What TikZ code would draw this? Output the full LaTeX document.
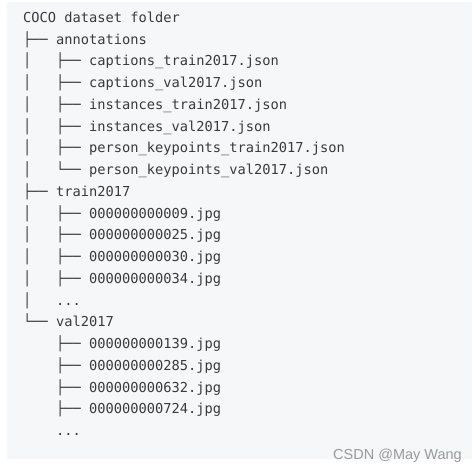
\documentclass[tikz,border=0pt]{standalone}
\usepackage{fontspec}
\setmainfont{Liberation Sans}
\newfontfamily\codefont{DejaVu Sans Mono}
\definecolor{codebg}{HTML}{F6F7F9}
\definecolor{codetext}{HTML}{383A3F}
\definecolor{wmark}{HTML}{9A9A9A}
\tikzset{
  codeline/.style={anchor=base west, inner sep=0pt, outer sep=0pt, text=codetext,
    font=\codefont\fontsize{13.7pt}{16pt}\selectfont},
  watermark/.style={anchor=base east, inner sep=0pt, text=wmark,
    font=\fontsize{14.5pt}{17pt}\selectfont}
}
\begin{document}
\begin{tikzpicture}[x=1pt,y=-1pt]
\useasboundingbox (0,0) rectangle (474,471);
\fill[white] (0,0) rectangle (474,471);
\fill[codebg] (7,2) rectangle (472,459);
\def\lx{23.2}
\def\ly#1{22.3+21.75*#1}
\node[codeline] (l0)  at (\lx,{\ly{0}})  {COCO\ dataset\ folder};
\node[codeline] (l1)  at (\lx,{\ly{1}})  {├──\ annotations};
\node[codeline] (l2)  at (\lx,{\ly{2}})  {│\ \ \ ├──\ captions\_train2017.json};
\node[codeline] (l3)  at (\lx,{\ly{3}})  {│\ \ \ ├──\ captions\_val2017.json};
\node[codeline] (l4)  at (\lx,{\ly{4}})  {│\ \ \ ├──\ instances\_train2017.json};
\node[codeline] (l5)  at (\lx,{\ly{5}})  {│\ \ \ ├──\ instances\_val2017.json};
\node[codeline] (l6)  at (\lx,{\ly{6}})  {│\ \ \ ├──\ person\_keypoints\_train2017.json};
\node[codeline] (l7)  at (\lx,{\ly{7}})  {│\ \ \ └──\ person\_keypoints\_val2017.json};
\node[codeline] (l8)  at (\lx,{\ly{8}})  {├──\ train2017};
\node[codeline] (l9)  at (\lx,{\ly{9}})  {│\ \ \ ├──\ 000000000009.jpg};
\node[codeline] (l10) at (\lx,{\ly{10}}) {│\ \ \ ├──\ 000000000025.jpg};
\node[codeline] (l11) at (\lx,{\ly{11}}) {│\ \ \ ├──\ 000000000030.jpg};
\node[codeline] (l12) at (\lx,{\ly{12}}) {│\ \ \ ├──\ 000000000034.jpg};
\node[codeline] (l13) at (\lx,{\ly{13}}) {│\ \ \ ...};
\node[codeline] (l14) at (\lx,{\ly{14}}) {└──\ val2017};
\node[codeline] (l15) at (\lx,{\ly{15}}) {\ \ \ \ ├──\ 000000000139.jpg};
\node[codeline] (l16) at (\lx,{\ly{16}}) {\ \ \ \ ├──\ 000000000285.jpg};
\node[codeline] (l17) at (\lx,{\ly{17}}) {\ \ \ \ ├──\ 000000000632.jpg};
\node[codeline] (l18) at (\lx,{\ly{18}}) {\ \ \ \ ├──\ 000000000724.jpg};
\node[codeline] (l19) at (\lx,{\ly{19}}) {\ \ \ \ ...};
\node[watermark] (wm) at (462,459.3) {CSDN @May Wang};
\end{tikzpicture}
\end{document}
